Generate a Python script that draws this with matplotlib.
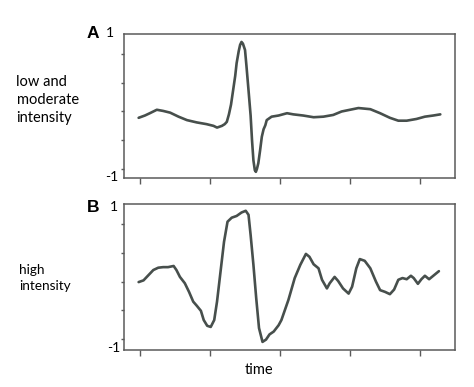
import matplotlib
matplotlib.use("Agg")
import matplotlib.pyplot as plt

# ---- data (time in tick units, amplitude in tick units) ----
time_a = [-0.02, 0.07, 0.14, 0.24, 0.33, 0.43, 0.55, 0.67, 0.81, 0.95, 1.05, 1.10,
          1.17, 1.21, 1.24, 1.27, 1.30, 1.33, 1.36, 1.38, 1.41, 1.43, 1.45, 1.47,
          1.50, 1.52, 1.55, 1.58, 1.60, 1.62, 1.64, 1.655, 1.67, 1.69, 1.715, 1.74,
          1.765, 1.79, 1.81, 1.88, 1.98, 2.10, 2.19, 2.33, 2.48, 2.62, 2.76, 2.88,
          3.00, 3.12, 3.29, 3.43, 3.57, 3.69, 3.81, 3.95, 4.07, 4.19, 4.29]
signal_a = [-0.11, -0.07, -0.03, 0.03, 0.01, -0.02, -0.09, -0.15, -0.19, -0.22, -0.25, -0.28,
            -0.25, -0.22, -0.18, -0.05, 0.12, 0.37, 0.62, 0.84, 1.05, 1.16, 1.21, 1.18,
            1.07, 0.80, 0.37, -0.07, -0.50, -0.85, -1.02, -1.05, -1.00, -0.90, -0.68, -0.44,
            -0.31, -0.24, -0.15, -0.09, -0.07, -0.03, -0.05, -0.07, -0.10, -0.09, -0.06, 0.00,
            0.03, 0.06, 0.04, -0.03, -0.11, -0.16, -0.16, -0.13, -0.09, -0.07, -0.05]

time_b = [-0.02, 0.05, 0.12, 0.19, 0.26, 0.33, 0.40, 0.48, 0.52, 0.57, 0.64, 0.70,
          0.76, 0.81, 0.87, 0.91, 0.96, 1.01, 1.06, 1.10, 1.15, 1.20, 1.25, 1.31,
          1.38, 1.45, 1.51, 1.55, 1.58, 1.62, 1.66, 1.70, 1.75, 1.80, 1.85, 1.91,
          1.98, 2.02, 2.12, 2.21, 2.29, 2.37, 2.42, 2.48, 2.55, 2.60, 2.67, 2.71,
          2.78, 2.83, 2.90, 2.98, 3.03, 3.09, 3.14, 3.21, 3.29, 3.37, 3.43, 3.50,
          3.57, 3.63, 3.69, 3.75, 3.81, 3.87, 3.91, 3.97, 4.02, 4.07, 4.13, 4.19,
          4.27]
signal_b = [-0.01, 0.02, 0.11, 0.20, 0.24, 0.25, 0.25, 0.27, 0.20, 0.08, -0.03, -0.18,
            -0.35, -0.42, -0.51, -0.67, -0.77, -0.79, -0.67, -0.35, 0.17, 0.69, 1.04, 1.11,
            1.14, 1.20, 1.23, 1.16, 0.81, 0.29, -0.29, -0.81, -1.05, -1.01, -0.92, -0.87,
            -0.76, -0.67, -0.32, 0.06, 0.29, 0.48, 0.43, 0.30, 0.23, 0.03, -0.12, -0.03,
            0.08, 0.01, -0.12, -0.21, -0.09, 0.23, 0.39, 0.36, 0.23, 0.00, -0.15, -0.18,
            -0.22, -0.14, 0.03, 0.06, 0.04, 0.10, 0.06, -0.04, 0.04, 0.10, 0.04, 0.10,
            0.18]

x_ticks = [0, 1, 2, 3, 4]
y_ticks = [-1, -0.5, 0, 0.5, 1]
panel_letters = ["A", "B"]
panel_labels = ["low and\nmoderate\nintensity", "high\nintensity"]
y_end_labels = ["1", "-1"]
x_label = "time"

# ---- style ----
W, H = 474, 387
LINE = "#474f4c"
SPINE = "#5a5a5a"
plt.rcParams['font.family'] = ['Lato', 'DejaVu Sans']

fig = plt.figure(figsize=(W / 100, H / 100), dpi=100)


def fx(px):
    return px / W


def fy(py):
    return 1 - py / H


def make_axes(top, bottom, ylim):
    ax = fig.add_axes([fx(124), fy(bottom), fx(455) - fx(124), fy(top) - fy(bottom)])
    ax.set_xlim(-0.229, 4.5)
    ax.set_ylim(*ylim)
    ax.set_xticks(x_ticks)
    ax.set_yticks(y_ticks)
    ax.set_xticklabels([])
    ax.set_yticklabels([])
    ax.tick_params(axis='x', direction='out', length=4, width=1.0, color=SPINE)
    ax.tick_params(axis='y', direction='out', length=2.5, width=1.0, color=SPINE)
    for s in ax.spines.values():
        s.set_color(SPINE)
        s.set_linewidth(1.1)
    return ax


axA = make_axes(34, 178, (-1.157, 1.348))
axA.plot(time_a, signal_a, color=LINE, lw=1.9, solid_joinstyle='round', solid_capstyle='round')

axB = make_axes(204, 350, (-1.191, 1.348))
axB.plot(time_b, signal_b, color=LINE, lw=1.9, solid_joinstyle='round', solid_capstyle='round')

# panel letters
fig.text(fx(93), fy(34), panel_letters[0], fontsize=12.5, fontweight='bold',
         family=['Liberation Sans', 'DejaVu Sans'], ha='center', va='center')
fig.text(fx(93), fy(208), panel_letters[1], fontsize=12.5, fontweight='bold',
         family=['Liberation Sans', 'DejaVu Sans'], ha='center', va='center')

# end labels
fig.text(fx(110), fy(33), y_end_labels[0], fontsize=10, ha='center', va='center')
fig.text(fx(111.5), fy(177), y_end_labels[1], fontsize=10, ha='center', va='center')
fig.text(fx(113.5), fy(207), y_end_labels[0], fontsize=10, ha='center', va='center')
fig.text(fx(114), fy(348), y_end_labels[1], fontsize=10, ha='center', va='center')

# side labels
fig.text(fx(16.5), fy(100), panel_labels[0], fontsize=10.5, ha='left', va='center',
         linespacing=1.35)
fig.text(fx(19), fy(278), panel_labels[1], fontsize=9.8, ha='left', va='center',
         linespacing=1.3)

fig.text(fx(259), fy(370), x_label, fontsize=10.5, ha='center', va='center')

fig.savefig("out.png", dpi=100)
